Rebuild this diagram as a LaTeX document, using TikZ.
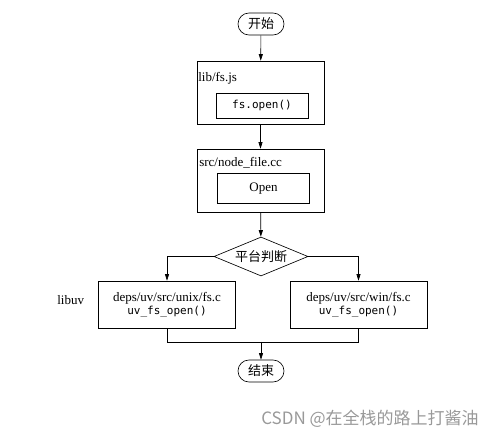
\documentclass[tikz,border=0pt]{standalone}
\usepackage{fontspec}
\setmainfont{Liberation Serif}
\setmonofont{DejaVu Sans Mono}
\newfontfamily\cjk{Noto Sans CJK SC}
\usepackage{tikz}
\usetikzlibrary{positioning}
\usetikzlibrary{shapes.geometric}
\usetikzlibrary{arrows.meta}

\begin{document}
\begin{tikzpicture}[x=1pt,y=-1pt,
  line width=0.65pt,
  flow/.style={-{Triangle[length=6.5pt,width=4pt]}},
  terminal/.style={draw, rectangle, rounded corners=11pt, minimum width=46pt, minimum height=22pt, inner sep=0pt, font=\cjk\fontsize{13}{13}\selectfont},
  layer/.style={draw, rectangle, minimum width=127pt, minimum height=63pt, inner sep=0pt},
  callbox/.style={draw, rectangle, minimum width=92pt, inner sep=0pt},
  platbox/.style={draw, rectangle, minimum width=137pt, minimum height=47pt, inner sep=0pt, align=center, font=\fontsize{13}{14}\selectfont},
  layertext/.style={anchor=west, inner sep=0pt, font=\fontsize{13}{13}\selectfont}]

\useasboundingbox (0,0) rectangle (490,438);

%% top part
\node[terminal] (start) at (261,24) {开始};

\node[layer] (jsbox) at (260.5,92.5) {};
\node[layertext] (jslabel) at (198,78) {lib/fs.js};
\node[callbox, minimum height=25pt, font=\ttfamily\fontsize{11}{11}\selectfont] (jsfn) at (262,105.5) {fs.open()};

\node[layer] (ccbox) at (260.5,180.5) {};
\node[layertext] (cclabel) at (199,163) {src/node\_file.cc};
\node[callbox, minimum height=30pt, font=\fontsize{13}{13}\selectfont] (ccfn) at (263.5,188.5) {Open};

\draw[flow] (start) -- (jsbox);
\draw[flow] (jsbox) -- (ccbox);

%% platform
\node[draw, diamond, aspect=2.4, inner sep=0pt, minimum width=94pt, minimum height=39pt, font=\cjk\fontsize{13}{13}\selectfont] (judge) at (261,256.5) {平台判断};

\draw[flow] (ccbox) -- (judge);

\node[platbox] (unixbox) at (167,304.5) {deps/uv/src/unix/fs.c\\[-1pt]{\ttfamily\fontsize{11}{11}\selectfont uv\_fs\_open()}};
\node[platbox] (winbox) at (358.5,304.5) {deps/uv/src/win/fs.c\\[-1pt]{\ttfamily\fontsize{11}{11}\selectfont uv\_fs\_open()}};
\node[layertext] (libuv) at (57,300) {libuv};

\draw[flow] (judge.west) -| (unixbox.north);
\draw[flow] (judge.east) -| (winbox.north);

%% end
\node[terminal] (finish) at (261,371) {结束};
\coordinate (merge) at (261,342);

\draw (unixbox.south) |- (merge);
\draw (winbox.south) |- (merge);
\draw[flow] (merge) -- (finish);

\node[anchor=east, inner sep=0pt, text=gray!80, font=\cjk\fontsize{17}{17}\selectfont] (mark) at (479,419) {CSDN @在全栈的路上打酱油};

\end{tikzpicture}
\end{document}
